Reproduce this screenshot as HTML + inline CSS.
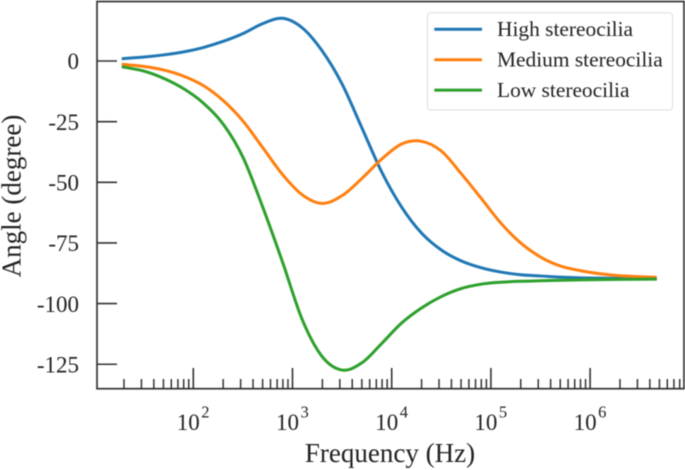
<!DOCTYPE html>
<html>
<head>
<meta charset="utf-8">
<title>Angle vs Frequency</title>
<style>
html,body{margin:0;padding:0;background:#fff;width:685px;height:470px;overflow:hidden}
svg{display:block;filter:blur(0.45px)}
text{font-family:"Liberation Serif",serif;fill:#222}
</style>
</head>
<body>
<svg id="chart" width="685" height="470" viewBox="0 0 685 470" xmlns="http://www.w3.org/2000/svg">
  <rect x="0" y="0" width="685" height="470" fill="#fff"/>
  <g id="series"></g>
  <g id="ticks"></g>
  <rect x="97" y="1.5" width="587" height="387.2" fill="none" stroke="#333" stroke-width="1.7"/>
  <text x="390" y="462" font-size="27" text-anchor="middle">Frequency (Hz)</text>
  <text transform="translate(20.7 196) rotate(-90)" font-size="27" text-anchor="middle">Angle (degree)</text>
  <g id="legend">
    <rect x="427.5" y="12.7" width="245" height="97.3" rx="3" fill="#fff" stroke="#ddd" stroke-width="1"/>
  </g>
</svg>
<script>
var frequencies = [19, 32, 50, 79, 126, 200, 316, 501, 794, 1259, 1995, 3162, 5012, 7943, 12589, 19953, 31623, 50119, 79433, 125893, 199526, 316228, 501187, 794328, 1258925, 1995262, 4700000];
var highStereocilia = [0.95, 1.65, 2.5, 3.7, 5.55, 8.1, 11.3, 15.4, 17.6, 13.6, 4.1, -9.5, -27.6, -45.8, -60.2, -70.9, -77.9, -82.4, -85.2, -87, -88.1, -88.6, -89.1, -89.4, -89.5, -89.6, -89.7];
var mediumStereocilia = [-1.36, -2.27, -3.7, -6.18, -10.1, -16.3, -24.7, -35.7, -46.8, -55.2, -58.7, -55.5, -48.4, -40.4, -34.2, -33.1, -37.1, -46.4, -56.5, -66.8, -75, -80.8, -84.5, -86.4, -87.7, -88.5, -89.2];
var lowStereocilia = [-2.35, -4.2, -7.1, -11.3, -17.3, -26, -39.6, -60.2, -82.9, -106.8, -121.9, -127.4, -124.4, -116.4, -108, -101.8, -97.1, -93.8, -92, -91.2, -90.8, -90.6, -90.4, -90.2, -90.1, -90, -89.9];
var seriesNames = ["High stereocilia", "Medium stereocilia", "Low stereocilia"];
var seriesColors = ["#1f77b4", "#ff7f0e", "#2ca02c"];
var yTicks = [0, -25, -50, -75, -100, -125];
var xMajorExponents = [2, 3, 4, 5, 6];
var xMinorExponents = [1, 2, 3, 4, 5, 6];
var xMinorMultipliers = [2, 3, 4, 5, 6, 7, 8, 9];

var SVGNS = "http://www.w3.org/2000/svg";
function xScale(f) { return 193.3 + (Math.log10(f) - 2) * 99.2; }
function yScale(v) { return 61 - v * 2.426; }
function make(tag, attrs, parent) {
  var el = document.createElementNS(SVGNS, tag);
  for (var k in attrs) el.setAttribute(k, attrs[k]);
  parent.appendChild(el);
  return el;
}
function smoothPath(xs, ys) {
  var d = "M" + xs[0].toFixed(2) + " " + ys[0].toFixed(2);
  for (var i = 0; i < xs.length - 1; i++) {
    var a = Math.max(i - 1, 0), b = i, c = i + 1, e = Math.min(i + 2, xs.length - 1);
    var h = xs[c] - xs[b];
    var m1 = (ys[c] - ys[a]) / (xs[c] - xs[a]);
    var m2 = (ys[e] - ys[b]) / (xs[e] - xs[b]);
    d += "C" + (xs[b] + h / 3).toFixed(2) + " " + (ys[b] + m1 * h / 3).toFixed(2) + " " +
         (xs[c] - h / 3).toFixed(2) + " " + (ys[c] - m2 * h / 3).toFixed(2) + " " +
         xs[c].toFixed(2) + " " + ys[c].toFixed(2);
  }
  return d;
}

var seriesGroup = document.getElementById("series");
var tickGroup = document.getElementById("ticks");
var legendGroup = document.getElementById("legend");
var allSeries = [highStereocilia, mediumStereocilia, lowStereocilia];
var seriesKeys = ["high", "medium", "low"];
var px = frequencies.map(xScale);

allSeries.forEach(function (values, i) {
  var line = make("path", {
    d: smoothPath(px, values.map(yScale)),
    fill: "none",
    stroke: seriesColors[i],
    "stroke-width": 3
  }, seriesGroup);
  
  

  var ly = 29.3 + i * 30.4;
  var handle = make("line", { x1: 434.3, x2: 482, y1: ly, y2: ly, stroke: seriesColors[i], "stroke-width": 3 }, legendGroup);
  
  
  var label = make("text", { x: 497, y: ly + 6.7, "font-size": 21.4 }, legendGroup);
  label.textContent = seriesNames[i];
  
  
});

yTicks.forEach(function (v) {
  var y = yScale(v);
  var t = make("line", { x1: 97, x2: 117, y1: y, y2: y, stroke: "#333", "stroke-width": 1.6 }, tickGroup);
  
  
  var lab = make("text", { x: 79, y: y + 8.2, "font-size": 23, "text-anchor": "end" }, tickGroup);
  lab.textContent = String(v);
  
  
});

xMajorExponents.forEach(function (e) {
  var x = xScale(Math.pow(10, e));
  var t = make("line", { x1: x, x2: x, y1: 388.7, y2: 368, stroke: "#333", "stroke-width": 1.6 }, tickGroup);
  
  
  var base = make("text", { x: x + 6.5, y: 430, "font-size": 23, "text-anchor": "end" }, tickGroup);
  base.textContent = "10";
  
  
  var sup = make("text", { x: x + 8, y: 417.5, "font-size": 16.5 }, tickGroup);
  sup.textContent = String(e);
  
  
});

xMinorExponents.forEach(function (e) {
  xMinorMultipliers.forEach(function (m) {
    var x = xScale(m * Math.pow(10, e));
    if (x < 97 || x > 684) return;
    var t = make("line", { x1: x, x2: x, y1: 388.7, y2: 379, stroke: "#333", "stroke-width": 1.5 }, tickGroup);
    
    
  });
});
</script>
</body>
</html>
